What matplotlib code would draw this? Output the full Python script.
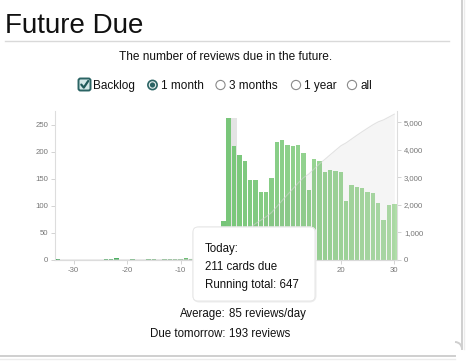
import matplotlib
matplotlib.use("Agg")
import matplotlib.pyplot as plt
import numpy as np
from matplotlib.patches import FancyBboxPatch, Circle, Arc
from matplotlib.ticker import FuncFormatter

plt.rcParams['font.family'] = ['Liberation Sans', 'DejaVu Sans']

# ---- data ----
days = list(range(-33, 31))
due = [1, 0, 0, 0, 0, 0, 0, 0, 0, 1, 1, 3, 0, 0, 2, 0, 0, 1, 2, 0,
       1, 1, 2, 2, 3, 2, 8, 12, 15, 20, 24, 72, 263, 211,
       193, 183, 148, 147, 125, 125, 152, 217, 221, 212, 211, 212, 198, 130,
       186, 183, 163, 167, 164, 163, 108, 138, 135, 132, 126, 124, 106, 73, 102, 103]
left_ticks = [0, 50, 100, 150, 200, 250]
right_ticks = [0, 1000, 2000, 3000, 4000, 5000]
x_ticks = [-30, -20, -10, 0, 10, 20, 30]
x_ticklabels = ["-30", "-20", "-10", "", "", "20", "30"]  # 0 and 10 hidden behind the tooltip
hover_day = 0
title = "Future Due"
subtitle = "The number of reviews due in the future."
options = ["Backlog", "1 month", "3 months", "1 year", "all"]
tooltip_lines = ["Today:", "211 cards due", "Running total: 647"]
stat_labels = ["Average:", "Due tomorrow:"]
stat_values = ["85 reviews/day", "193 reviews"]

W, H = 474, 361
fig = plt.figure(figsize=(W / 100, H / 100), dpi=100)
fig.patch.set_facecolor('white')

# ---- chart ----
x0, x1, ytop, ybot = 55, 397, 111, 260
ax = fig.add_axes([x0 / W, (H - ybot) / H, (x1 - x0) / W, (ybot - ytop) / H])
ax.set_facecolor('none')
cmap = plt.get_cmap('Greens')
cols = [cmap(0.33 + (30 - d) / 63 * 0.32) for d in days]
ax.bar([hover_day], [max(due)], width=0.95, color='#e4e4e4', zorder=1)
ax.bar(days, due, width=0.82, color=cols, zorder=2)
ax.set_xlim(-33.5, 30.5)
ax.set_ylim(0, 275)
ax.set_xticks(x_ticks)
ax.set_xticklabels(x_ticklabels)
ax.set_yticks(left_ticks)

ax2 = ax.twinx()
cum = np.cumsum(due)
top2 = 275 * 0.5417 / 0.02754
ax2.set_ylim(0, top2)
ax2.fill_between(days, 0, cum, color='#808080', alpha=0.08, lw=0, zorder=3)
ax2.plot(days, cum, color='#cfcfcf', lw=0.8, alpha=0.6, zorder=3)
ax2.set_yticks(right_ticks)
ax2.yaxis.set_major_formatter(FuncFormatter(lambda v, p: f"{int(v):,}"))

for a in (ax, ax2):
    for s in a.spines.values():
        s.set_color('#dddddd')
        s.set_linewidth(0.8)
    a.spines['top'].set_visible(False)
    a.tick_params(labelsize=5.6, labelcolor='#777777', color='#cccccc', length=3, width=0.6, pad=2)
ax2.spines['left'].set_visible(False)
ax.spines['right'].set_visible(False)

# ---- overlay (pixel coords) ----
ov = fig.add_axes([0, 0, 1, 1], zorder=10)
ov.set_xlim(0, W)
ov.set_ylim(H, 0)
ov.axis('off')
ov.patch.set_alpha(0)

ov.text(5, 33.3, title, fontsize=20, va='baseline', ha='left', color='#111111')
ov.plot([5, 449], [40.7, 40.7], color='#d9d9d9', lw=1)
ov.text(225.5, 60, subtitle, fontsize=8.6, va='baseline', ha='center', color='#111111')

# checkbox
ov.add_patch(FancyBboxPatch((78.5, 78.5), 12, 12, boxstyle='round,pad=0,rounding_size=2',
                            fc='#d3e8e8', ec='#2b6464', lw=1.4))
ov.plot([81.3, 83.8, 88.2], [84.6, 87.6, 81.0], color='#1f5a5a', lw=1.6, solid_capstyle='round')
ov.text(93, 89.3, options[0], fontsize=8.5, va='baseline', ha='left', color='#111111')
radio_cx = [152.5, 220.5, 296, 352]
text_x = [161, 229, 304, 361]
for i, (cx, tx) in enumerate(zip(radio_cx, text_x)):
    if i == 0:
        ov.add_patch(Circle((cx, 85), 4.6, fc='#e6f0f0', ec='#2b6464', lw=1.2))
        ov.add_patch(Circle((cx, 85), 2.6, fc='#2b6464', ec='none'))
    else:
        ov.add_patch(Circle((cx, 85), 4.6, fc='white', ec='#8a8a8a', lw=0.8))
    ov.text(tx, 89.3, options[i + 1], fontsize=8.5, va='baseline', ha='left', color='#111111')

# tooltip
ov.add_patch(FancyBboxPatch((194.5, 228.5), 120, 72, boxstyle='round,pad=0,rounding_size=5',
                            fc='none', ec='#eeeeee', lw=3))
ov.add_patch(FancyBboxPatch((193, 227), 122, 74, boxstyle='round,pad=0,rounding_size=5',
                            fc='white', ec='#e6e6e6', lw=0.7))
for t, yb in zip(tooltip_lines, [252.3, 270, 287.7]):
    ov.text(205, yb, t, fontsize=8.3, va='baseline', ha='left', color='#111111')

# stats
for lab, val, yb in zip(stat_labels, stat_values, [316.7, 337.3]):
    ov.text(225.5, yb, lab, fontsize=8.3, va='baseline', ha='right', color='#111111')
    ov.text(229, yb, val, fontsize=8.3, va='baseline', ha='left', color='#111111')

# card border
r = 7
ov.plot([462, 462], [0, 356 - r], color='#cfcfcf', lw=1.4)
ov.plot([0, 462 - r], [356, 356], color='#cfcfcf', lw=1.4)
ov.add_patch(Arc((462 - r, 356 - r), 2 * r, 2 * r, theta1=270, theta2=360, color='#cfcfcf', lw=1.4))
ov.plot([464.5, 464.5], [0, 356 - r], color='#ececec', lw=1)
ov.plot([0, 462 - r], [358.5, 358.5], color='#ececec', lw=1)

fig.savefig('out.png', dpi=100, facecolor='white')
